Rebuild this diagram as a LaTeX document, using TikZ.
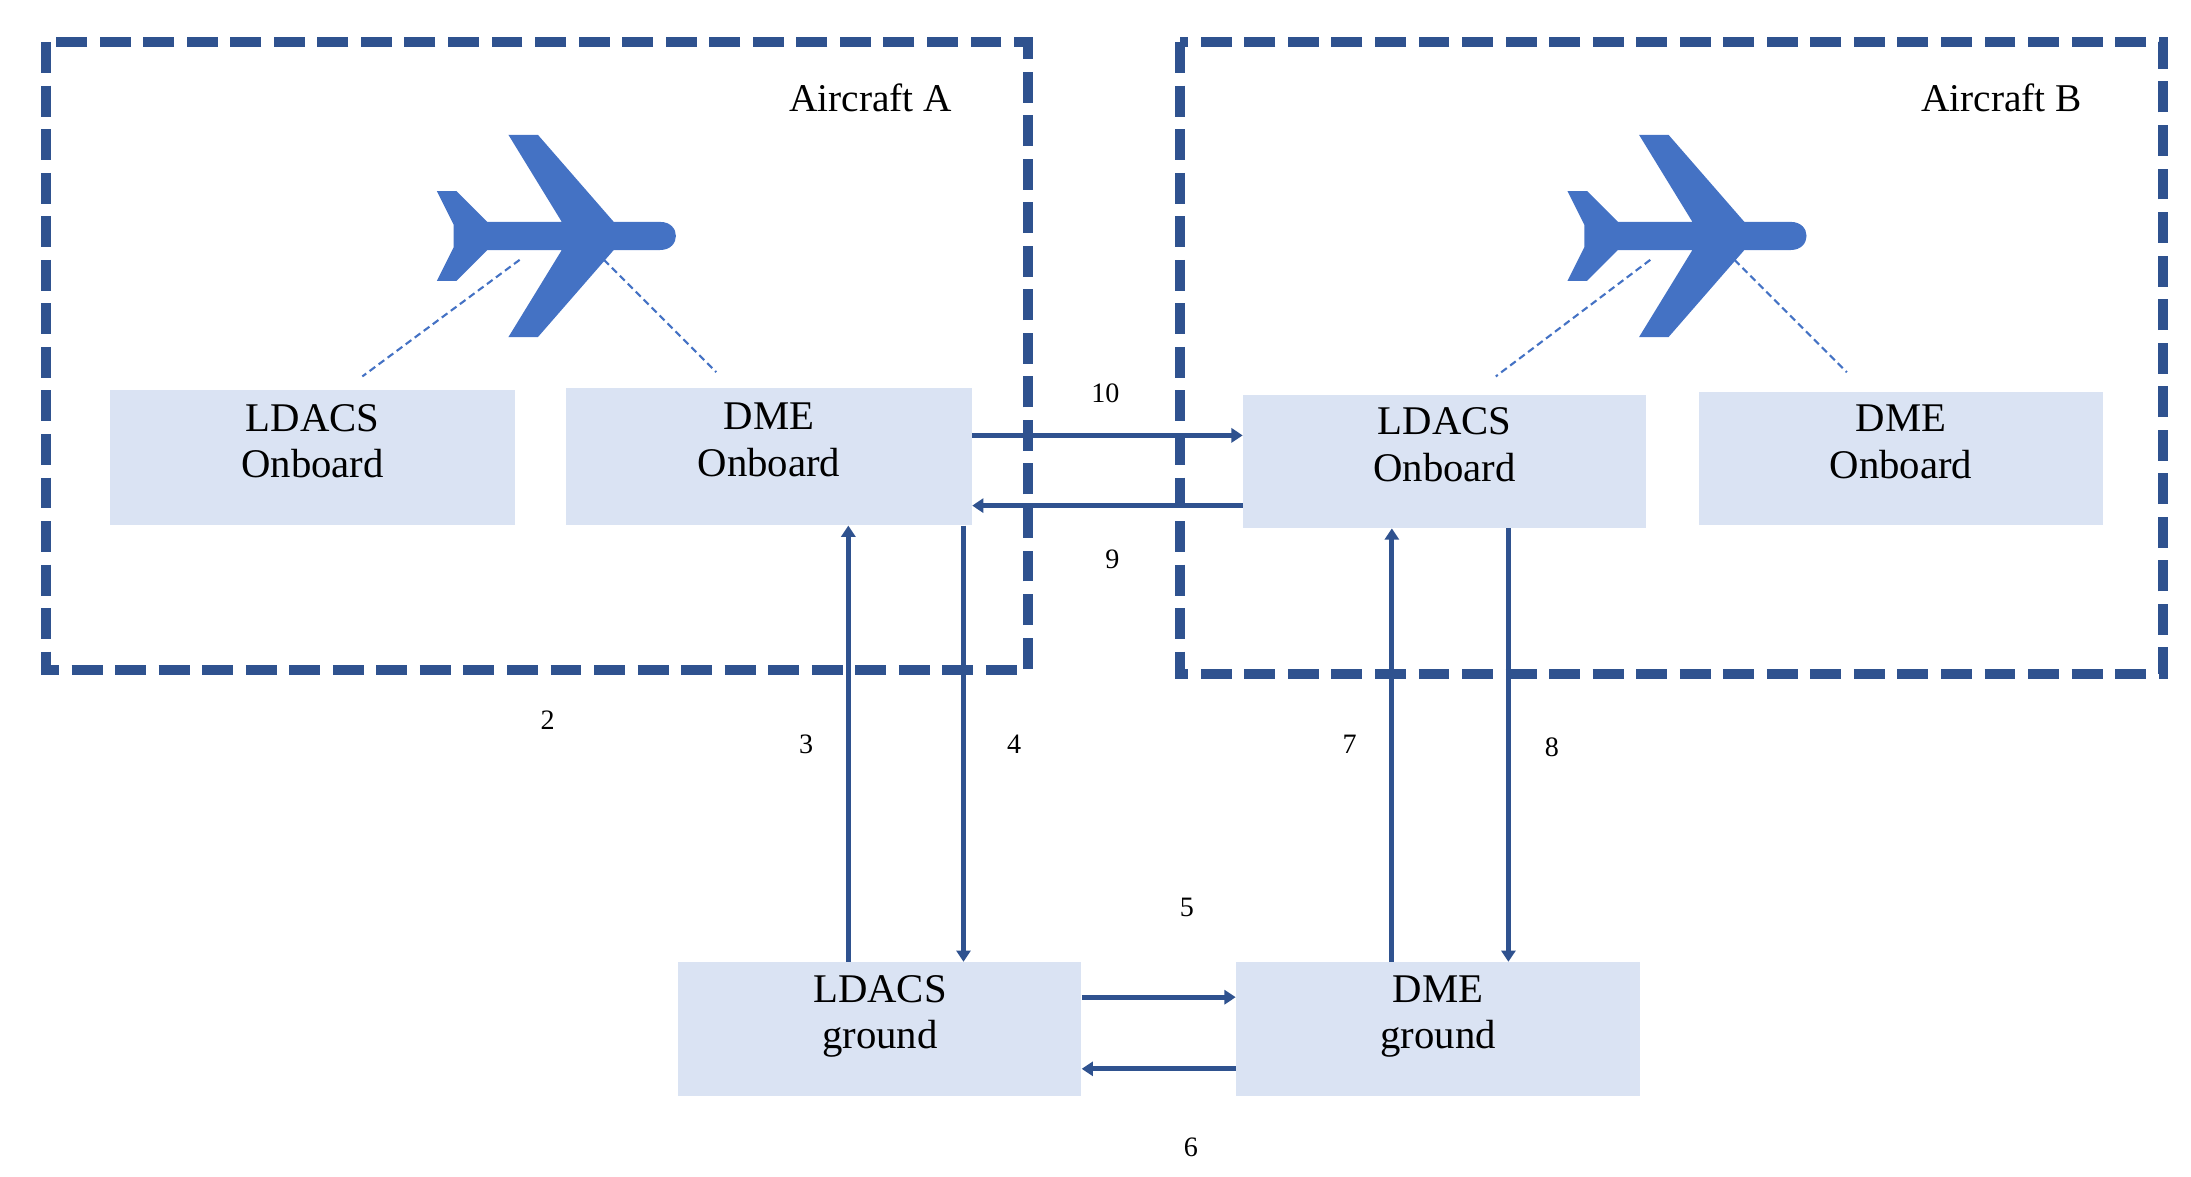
\documentclass[tikz,border=0pt]{standalone}
\usepackage{fontspec}
\setmainfont{Liberation Serif}
\usetikzlibrary{arrows.meta}
\definecolor{dblue}{HTML}{2F528F}
\definecolor{pblue}{HTML}{4472C4}
\definecolor{bfill}{HTML}{DAE3F3}
\newcommand\btx[2]{\raisebox{2pt}[0pt][0pt]{\begin{tabular}{@{}c@{}}#1\\[4pt]#2\end{tabular}}}
\begin{document}
\begin{tikzpicture}[x=1pt,y=-1pt,
  grp/.style={draw=dblue,line width=7pt,dash pattern=on 22pt off 9pt},
  blk/.style={fill=bfill,draw=none,align=center,font=\fontsize{29}{29}\selectfont},
  arr/.style={draw=dblue,line width=3.5pt,-{Triangle[length=8pt,width=10pt]}},
  lbl/.style={font=\fontsize{20}{20}\selectfont},
  tie/.style={draw=pblue,line width=1.5pt,dash pattern=on 5pt off 3pt},
  plane/.pic={\fill[pblue] (-72,-8) -- (-84,-32) -- (-70,-32) -- (-48,-10) -- (5,-10) -- (-33,-72) -- (-12,-72) -- (42,-10) -- (75,-10)
      .. controls (90,-10) and (90,10) .. (75,10) -- (42,10) -- (-12,72) -- (-33,72) -- (5,10) -- (-48,10) -- (-70,32) -- (-84,32) -- (-72,8) -- cycle;}]
\useasboundingbox (0,0) rectangle (1560,838);
\draw[grp] (33,30) rectangle (732,477);
\draw[grp] (840,30) rectangle (1540,480);
\node[lbl,font=\fontsize{28}{28}\selectfont] (ta) at (620,70) {Aircraft A};
\node[lbl,font=\fontsize{28}{28}\selectfont] (tb) at (1425,70) {Aircraft B};
\pic at (395,168) {plane};
\pic at (1200,168) {plane};
\node[blk,minimum width=289pt,minimum height=96pt] (la) at (222.5,326) {\btx{LDACS}{Onboard}};
\node[blk,minimum width=289pt,minimum height=98pt] (da) at (547.5,325) {\btx{DME}{Onboard}};
\node[blk,minimum width=287pt,minimum height=95pt] (lb) at (1028.5,328.5) {\btx{LDACS}{Onboard}};
\node[blk,minimum width=287pt,minimum height=95pt] (db) at (1353.5,326.5) {\btx{DME}{Onboard}};
\node[blk,minimum width=287pt,minimum height=95pt] (lg) at (626.5,732.5) {\btx{LDACS}{ground}};
\node[blk,minimum width=288pt,minimum height=95pt] (dg) at (1024,732.5) {\btx{DME}{ground}};
\coordinate (pa1) at (370,185); \coordinate (pa2) at (430,185);
\coordinate (pb1) at (1175,185); \coordinate (pb2) at (1235,185);
\draw[tie] (pa1) -- (258,268); \draw[tie] (pa2) -- (510,265);
\draw[tie] (pb1) -- (1065,268); \draw[tie] (pb2) -- (1315,265);
\draw[arr] (da.east |- 0,310) -- (lb.west |- 0,310);
\draw[arr] (lb.west |- 0,360) -- (da.east |- 0,360);
\draw[arr] (lg.north -| 604,0) -- (da.south -| 604,0);
\draw[arr] (da.south -| 686,0) -- (lg.north -| 686,0);
\draw[arr] (dg.north -| 991,0) -- (lb.south -| 991,0);
\draw[arr] (lb.south -| 1074,0) -- (dg.north -| 1074,0);
\draw[arr] (lg.east |- 0,710) -- (dg.west |- 0,710);
\draw[arr] (dg.west |- 0,761) -- (lg.east |- 0,761);
\node[lbl] (n10) at (787,280) {10};
\node[lbl] (n9) at (792,398) {9};
\node[lbl] (n2) at (390,513) {2};
\node[lbl] (n3) at (574,530) {3};
\node[lbl] (n4) at (722,530) {4};
\node[lbl] (n7) at (961,530) {7};
\node[lbl] (n8) at (1105,532) {8};
\node[lbl] (n5) at (845,646) {5};
\node[lbl] (n6) at (848,817) {6};
\end{tikzpicture}
\end{document}
